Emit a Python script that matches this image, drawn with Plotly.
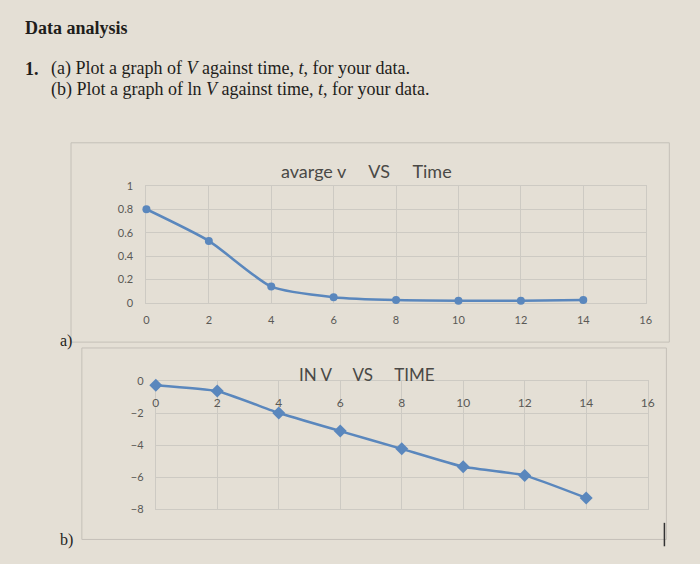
import plotly.graph_objects as go

# data
time = [0, 2, 4, 6, 8, 10, 12, 14]
avg_v = [0.80, 0.53, 0.14, 0.05, 0.025, 0.02, 0.02, 0.025]
ln_v = [-0.25, -0.62, -1.99, -3.12, -4.23, -5.35, -5.89, -7.30]

x_ticks = [0, 2, 4, 6, 8, 10, 12, 14, 16]
y_ticks_top = [0, 0.2, 0.4, 0.6, 0.8, 1]
y_labels_top = ["0", "0.2", "0.4", "0.6", "0.8", "1"]
y_ticks_bottom = [0, -2, -4, -6, -8]

W, H = 700, 564
PAPER = "#e4dfd5"
GRID = "#cdcac3"
BLUE = "#5a87bd"
TICK = "#5a5955"


def px(x):
    return x / W


def py(y):
    return 1 - y / H


fig = go.Figure()

fig.add_trace(go.Scatter(
    x=time, y=avg_v, mode="lines+markers", xaxis="x", yaxis="y",
    line=dict(color=BLUE, width=2.5, shape="spline", smoothing=0.6),
    marker=dict(symbol="circle", size=8, color=BLUE),
    cliponaxis=False, showlegend=False,
))
fig.add_trace(go.Scatter(
    x=time, y=ln_v, mode="lines+markers", xaxis="x2", yaxis="y2",
    line=dict(color=BLUE, width=2.5, shape="spline", smoothing=0.4),
    marker=dict(symbol="diamond", size=10, color=BLUE),
    cliponaxis=False, showlegend=False,
))

tickfont = dict(family="Lato", size=11, color=TICK)
axis_common = dict(
    showgrid=True, gridcolor=GRID, gridwidth=1, zeroline=False,
    showline=True, linecolor=GRID, mirror=True, ticks="",
    layer="below traces", tickfont=tickfont,
)

fig.update_layout(
    width=W, height=H,
    margin=dict(l=0, r=0, t=0, b=0),
    paper_bgcolor=PAPER, plot_bgcolor=PAPER,
    xaxis=dict(domain=[px(145.5), px(652)], range=[0, 16], anchor="y",
               tickvals=x_ticks, ticklabelstandoff=7, **axis_common),
    yaxis=dict(domain=[py(303), py(183)], range=[0, 1], anchor="x",
               tickvals=y_ticks_top, ticktext=y_labels_top,
               ticklabelstandoff=10, **axis_common),
    xaxis2=dict(domain=[px(155), px(654)], range=[0, 16], anchor="y2",
                side="top", showticklabels=False,
                tickvals=x_ticks, **axis_common),
    yaxis2=dict(domain=[py(514), py(383)], range=[-8, 0], anchor="x2",
                tickvals=y_ticks_bottom, ticklabelstandoff=9,
                **axis_common),
    # tick labels of the lower chart sit just under its top (y = 0) line
    xaxis3=dict(domain=[px(155), px(654)], range=[0, 16], overlaying="x2",
                anchor="free", position=py(383), side="bottom",
                showgrid=False, zeroline=False, showline=False, ticks="",
                tickvals=x_ticks, ticklabelstandoff=13,
                tickfont=dict(family="Lato", size=12, color=TICK)),
)
# dummy invisible trace to carry xaxis3
fig.add_trace(go.Scatter(x=[None], y=[None], xaxis="x3", yaxis="y2",
                         showlegend=False, hoverinfo="skip"))

# chart frames and answer lines
fig.add_shape(type="rect", xref="paper", yref="paper",
              x0=px(69), x1=px(676), y0=py(343), y1=py(139),
              line=dict(color="#c4c0b8", width=1))
fig.add_shape(type="rect", xref="paper", yref="paper",
              x0=px(80), x1=px(673), y0=py(545), y1=py(349),
              line=dict(color="#c4c0b8", width=1))
fig.add_shape(type="line", xref="paper", yref="paper",
              x0=px(671), x1=px(671), y0=py(552), y1=py(528),
              line=dict(color="#333333", width=1.5))

serif = "Liberation Serif"
ink = "#1e1d1b"
texts = [
    (20, 22, "<b>Data analysis</b>", 18),
    (20, 63, "<b>1.</b>", 18),
    (47, 63, "(a) Plot a graph of <i>V</i> against time, <i>t</i>, for your data.", 18),
    (47, 84, "(b) Plot a graph of ln <i>V</i> against time, <i>t</i>, for your data.", 18),
    (56, 342, "a)", 16),
    (56, 546, "b)", 16),
]
for x, y, t, s in texts:
    fig.add_annotation(x=px(x), y=py(y), xref="paper", yref="paper",
                       text=t, showarrow=False, xanchor="left", yanchor="middle",
                       font=dict(family=serif, size=s, color=ink))

# chart titles, placed relative to each plot area
fig.add_annotation(x=0.44, y=1.125, xref="x domain", yref="y domain",
                   text="avarge v&nbsp;&nbsp;&nbsp;&nbsp; VS&nbsp;&nbsp;&nbsp;&nbsp; Time",
                   showarrow=False, xanchor="center", yanchor="middle",
                   font=dict(family="Lato", size=18, color="#4a4946"))
fig.add_annotation(x=0.43, y=1.055, xref="x2 domain", yref="y2 domain",
                   text="IN V&nbsp;&nbsp;&nbsp;&nbsp; VS&nbsp;&nbsp;&nbsp;&nbsp; TIME",
                   showarrow=False, xanchor="center", yanchor="middle",
                   font=dict(family="Lato", size=17, color="#4a4946"))

fig.write_html("out.html", config={"displayModeBar": False},
               post_script="document.body.style.margin='0';")
